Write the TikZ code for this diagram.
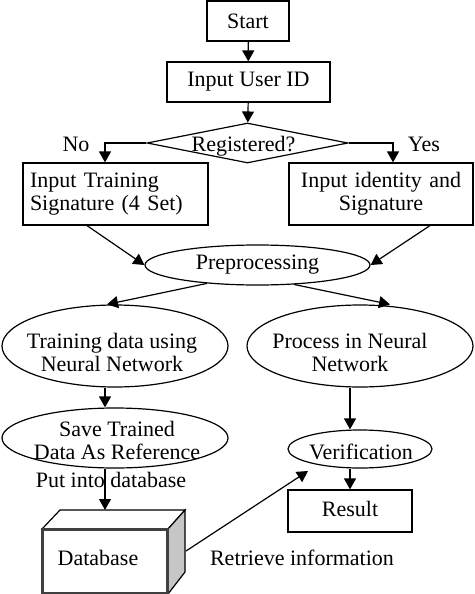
\documentclass[tikz,border=0pt]{standalone}
\usepackage{fontspec}
\setmainfont{Liberation Serif}
\usetikzlibrary{shapes.geometric,arrows.meta}
\begin{document}
\begin{tikzpicture}[x=1pt,y=-1pt,
  font=\fontsize{22}{23}\selectfont,
  line width=1.2pt,
  arr/.style={-{Triangle[length=11pt,width=12pt]}},
  box/.style={draw,rectangle,inner sep=0pt},
  ell/.style={draw,ellipse,inner sep=0pt},
  lbl/.style={inner sep=0pt,align=center}]
\useasboundingbox (0,0) rectangle (474,594);
% boxes
\node[box,minimum width=82pt,minimum height=40pt] (start) at (248,21) {Start};
\node[box,minimum width=163pt,minimum height=40pt] (uid) at (248.5,82) {Input User ID};
\node[draw,diamond,inner sep=0pt,minimum width=201pt,minimum height=40pt] (reg) at (247.5,143) {\makebox[0pt]{\hspace{-8pt}\raisebox{-3pt}[\height][\depth]{Registered?}}};
\node[box,minimum width=185pt,minimum height=62pt,text width=171pt,inner xsep=7pt,align=left] (lbox) at (115.5,194) {Input Training\\Signature (4 Set)};
\node[box,minimum width=184pt,minimum height=62pt,text width=176pt,inner xsep=4pt,align=center] (rbox) at (381,194) {Input identity and\\Signature};
\node[ell,minimum width=225pt,minimum height=40pt] (pre) at (257.5,265) {Preprocessing};
\node[ell,minimum width=226pt,minimum height=82pt] (tl) at (115,346) {};
\node[lbl] (tlT) at (112,352) {Training data using\\Neural Network};
\node[ell,minimum width=226pt,minimum height=82pt] (pr) at (360,346) {};
\node[lbl] (prT) at (350,352) {Process in Neural\\Network};
\node[ell,minimum width=226pt,minimum height=60pt] (sv) at (115,438) {};
\node[lbl] (svT) at (117,440) {Save Trained\\Data As Reference};
\node[ell,minimum width=144pt,minimum height=38pt] (ver) at (360,449) {};
\node[lbl] (verT) at (361,452) {Verification};
\node[box,minimum width=124pt,minimum height=42pt] (res) at (350,511) {\raisebox{4pt}{Result}};
% database
\node[draw=gray!50!black,line width=2pt,minimum width=124pt,minimum height=63pt,inner sep=0pt] (db) at (105,561.5) {};
\coordinate (dbTL) at (60,510);
\coordinate (dbTR) at (185,510);
\coordinate (dbBR) at (185,572);
\coordinate (dbtop) at (105,510);
\coordinate (dbR) at (186,551);
\coordinate (retr) at (308,471);
\draw[fill=white] (db.north west) -- (dbTL) -- (dbTR) -- (db.north east) -- cycle;
\draw[fill=gray!45] (db.north east) -- (dbTR) -- (dbBR) -- (db.south east) -- cycle;
\draw[draw=gray!50!black,line width=2pt] (db.north west) rectangle (db.south east);
\node[lbl] (dbT) at (98,558) {Database};
% labels
\node[lbl] (no) at (76,144) {No};
\node[lbl] (yes) at (424,144) {Yes};
\node[lbl] (put) at (111,480) {Put into database};
\node[lbl] (ret) at (302,558) {Retrieve information};
% connectors
\draw[arr] (start) -- (uid);
\draw[arr] (uid) -- (reg);
\draw[arr] (reg.west) -| ([xshift=-10.5pt]lbox.north);
\draw[arr] (reg.east) -| ([xshift=12pt]rbox.north);
\draw[arr] ([xshift=-28.5pt]lbox.south) -- (pre.west);
\draw[arr] ([xshift=49pt]rbox.south) -- (pre.east);
\draw[arr] (pre.200) -- ([xshift=-8pt]tl.north);
\draw[arr] (pre.332) -- ([xshift=30pt]pr.north);
\draw[arr] ([xshift=-10pt]tl.south) -- ([xshift=-10pt]sv.north);
\draw[arr] ([xshift=-10pt]sv.south) -- (dbtop);
\draw[arr] ([xshift=-10pt]pr.south) -- ([xshift=-10pt]ver.north);
\draw[arr] ([xshift=-10pt]ver.south) -- (res.north);
\draw[arr] (dbR) -- (retr);
\end{tikzpicture}
\end{document}
